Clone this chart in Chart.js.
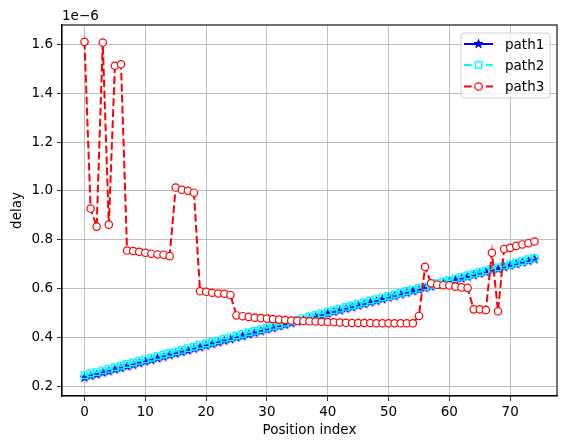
<!DOCTYPE html>
<html>
<head>
<meta charset="utf-8">
<script src="https://cdn.jsdelivr.net/npm/chart.js@4.4.1/dist/chart.umd.min.js"></script>
<style>
html, body { margin: 0; padding: 0; background: #fff; }
</style>
</head>
<body>
<canvas id="chart" width="567" height="448"></canvas>
<script>
// delay values are in units of 1e-6 (shown as the offset label on the y axis)
const positions = Array.from({ length: 75 }, (_, i) => i);

const path1 = [
    0.235, 0.242, 0.248, 0.255, 0.261, 0.268, 0.274, 0.281, 0.287, 0.294,
    0.301, 0.307, 0.314, 0.320, 0.327, 0.333, 0.340, 0.346, 0.353, 0.359,
    0.366, 0.373, 0.379, 0.386, 0.392, 0.399, 0.405, 0.412, 0.418, 0.425,
    0.432, 0.438, 0.445, 0.451, 0.458, 0.464, 0.471, 0.477, 0.484, 0.490,
    0.497, 0.504, 0.510, 0.517, 0.523, 0.530, 0.536, 0.543, 0.549, 0.556,
    0.563, 0.569, 0.576, 0.582, 0.589, 0.595, 0.602, 0.608, 0.615, 0.621,
    0.628, 0.635, 0.641, 0.648, 0.654, 0.661, 0.667, 0.674, 0.680, 0.687,
    0.694, 0.700, 0.707, 0.713, 0.720
];

const path2 = [
    0.245, 0.252, 0.258, 0.265, 0.271, 0.278, 0.284, 0.291, 0.297, 0.304,
    0.310, 0.317, 0.323, 0.330, 0.336, 0.343, 0.349, 0.356, 0.362, 0.369,
    0.375, 0.382, 0.388, 0.395, 0.401, 0.408, 0.414, 0.421, 0.427, 0.434,
    0.440, 0.447, 0.453, 0.460, 0.466, 0.473, 0.479, 0.486, 0.492, 0.499,
    0.505, 0.512, 0.518, 0.525, 0.531, 0.538, 0.544, 0.551, 0.557, 0.564,
    0.570, 0.577, 0.583, 0.590, 0.596, 0.603, 0.609, 0.616, 0.622, 0.629,
    0.635, 0.642, 0.648, 0.655, 0.661, 0.668, 0.674, 0.681, 0.687, 0.694,
    0.700, 0.707, 0.713, 0.720, 0.726
];

const path3 = [
    1.611, 0.928, 0.854, 1.608, 0.862, 1.513, 1.519, 0.756, 0.754, 0.751,
    0.747, 0.743, 0.740, 0.739, 0.733, 1.014, 1.005, 1.001, 0.993, 0.589,
    0.587, 0.583, 0.580, 0.579, 0.574, 0.490, 0.487, 0.484, 0.481, 0.479,
    0.477, 0.475, 0.473, 0.471, 0.469, 0.468, 0.467, 0.466, 0.465, 0.464,
    0.463, 0.462, 0.461, 0.460, 0.459, 0.459, 0.459, 0.459, 0.458, 0.458,
    0.458, 0.458, 0.458, 0.458, 0.458, 0.488, 0.689, 0.622, 0.616, 0.614,
    0.613, 0.608, 0.605, 0.603, 0.515, 0.515, 0.512, 0.747, 0.507, 0.762,
    0.767, 0.775, 0.781, 0.786, 0.793
];

const xTicks = [0, 10, 20, 30, 40, 50, 60, 70];
const yTicks = [0.2, 0.4, 0.6, 0.8, 1.0, 1.2, 1.4, 1.6];
const seriesNames = ["path1", "path2", "path3"];

const FONT = "DejaVu Sans";

function starImage(color) {
    const c = document.createElement("canvas");
    c.width = 11;
    c.height = 11;
    const g = c.getContext("2d");
    drawStar(g, 5.5, 5.5, 4.6, color);
    return c;
}

function drawStar(g, cx, cy, r, color) {
    const inner = r * 0.382;
    g.beginPath();
    for (let k = 0; k < 10; k++) {
        const rad = k % 2 === 0 ? r : inner;
        const a = -Math.PI / 2 + k * Math.PI / 5;
        const px = cx + rad * Math.cos(a);
        const py = cy + rad * Math.sin(a);
        if (k === 0) g.moveTo(px, py); else g.lineTo(px, py);
    }
    g.closePath();
    g.fillStyle = color;
    g.fill();
    g.strokeStyle = color;
    g.lineWidth = 1;
    g.stroke();
}

function toPoints(values) {
    return values.map((v, i) => ({ x: positions[i], y: v }));
}

const decorations = {
    id: "decorations",
    afterDraw(chart) {
        const g = chart.ctx;
        const a = chart.chartArea;
        g.save();

        // full frame
        g.strokeStyle = "#000";
        g.lineWidth = 1.1;
        g.setLineDash([]);
        g.strokeRect(a.left, a.top, a.right - a.left, a.bottom - a.top);

        // offset label and axis titles
        g.fillStyle = "#000";
        g.font = "13.5px '" + FONT + "'";
        g.textAlign = "left";
        g.textBaseline = "middle";
        g.fillText("1e\u22126", a.left, 16);

        g.textAlign = "center";
        g.fillText("Position index", (a.left + a.right) / 2, 430);
        g.save();
        g.translate(17, (a.top + a.bottom) / 2);
        g.rotate(-Math.PI / 2);
        g.fillText("delay", 0, 0);
        g.restore();

        // legend
        const bx = 461, by = 33, bw = 89, bh = 65;
        g.beginPath();
        g.roundRect(bx, by, bw, bh, 3);
        g.fillStyle = "rgba(255,255,255,0.8)";
        g.fill();
        g.strokeStyle = "#d0d0d0";
        g.lineWidth = 1;
        g.stroke();

        const rows = [44, 65, 86.5];
        const styles = [
            { color: "#0000ff", dash: [] },
            { color: "#00ffff", dash: [7.7, 3.3] },
            { color: "#ff0000", dash: [7.7, 3.3] }
        ];
        rows.forEach((yy, k) => {
            g.strokeStyle = styles[k].color;
            g.lineWidth = 2;
            g.setLineDash(styles[k].dash);
            g.beginPath();
            g.moveTo(464, yy);
            g.lineTo(493, yy);
            g.stroke();
            g.setLineDash([]);
            if (k === 0) {
                drawStar(g, 478.5, yy, 4.6, "#0000ff");
            } else if (k === 1) {
                g.fillStyle = "#fff";
                g.fillRect(475.3, yy - 3.2, 6.4, 6.4);
                g.strokeStyle = "#00ffff";
                g.lineWidth = 1.4;
                g.strokeRect(475.3, yy - 3.2, 6.4, 6.4);
            } else {
                g.beginPath();
                g.arc(478.5, yy, 3.7, 0, Math.PI * 2);
                g.fillStyle = "#fff";
                g.fill();
                g.strokeStyle = "#ff0000";
                g.lineWidth = 1.2;
                g.stroke();
            }
            g.fillStyle = "#000";
            g.font = "13.5px '" + FONT + "'";
            g.textAlign = "left";
            g.textBaseline = "middle";
            g.fillText(seriesNames[k], 505, yy + 1);
        });

        g.restore();
    }
};

new Chart(document.getElementById("chart"), {
    type: "line",
    data: {
        datasets: [
            {
                label: seriesNames[0],
                data: toPoints(path1),
                borderColor: "#0000ff",
                borderWidth: 2,
                pointStyle: starImage("#0000ff"),
                pointRadius: 4,
                order: 3
            },
            {
                label: seriesNames[1],
                data: toPoints(path2),
                borderColor: "#00ffff",
                borderWidth: 2,
                borderDash: [7.7, 3.3],
                pointStyle: "rect",
                pointRadius: 4.6,
                pointBorderWidth: 1.4,
                pointBorderColor: "#00ffff",
                pointBackgroundColor: "rgba(0,0,0,0)",
                order: 2
            },
            {
                label: seriesNames[2],
                data: toPoints(path3),
                borderColor: "#ff0000",
                borderWidth: 2,
                borderDash: [7.7, 3.3],
                pointStyle: "circle",
                pointRadius: 3.7,
                pointBorderWidth: 1.2,
                pointBorderColor: "#ff0000",
                pointBackgroundColor: "#ffffff",
                order: 1
            }
        ]
    },
    options: {
        responsive: false,
        animation: false,
        events: [],
        layout: {
            padding: { top: 25, right: 10, left: 0, bottom: 0 }
        },
        plugins: {
            legend: { display: false },
            tooltip: { enabled: false }
        },
        scales: {
            x: {
                type: "linear",
                min: -3.7,
                max: 77.7,
                afterBuildTicks: scale => { scale.ticks = xTicks.map(v => ({ value: v })); },
                afterFit: scale => { scale.height = 52; },
                grid: {
                    color: "#b0b0b0",
                    lineWidth: 0.8,
                    tickColor: "#000",
                    tickLength: 5
                },
                border: { color: "#000", width: 1.1 },
                ticks: {
                    color: "#000",
                    padding: 3,
                    maxRotation: 0,
                    font: { family: FONT, size: 13.5 }
                }
            },
            y: {
                type: "linear",
                min: 0.16,
                max: 1.68,
                afterBuildTicks: scale => { scale.ticks = yTicks.map(v => ({ value: v })); },
                afterFit: scale => { scale.width = 62; },
                grid: {
                    color: "#b0b0b0",
                    lineWidth: 0.8,
                    tickColor: "#000",
                    tickLength: 5
                },
                border: { color: "#000", width: 1.1 },
                ticks: {
                    color: "#000",
                    padding: 4,
                    font: { family: FONT, size: 13.5 },
                    callback: v => v.toFixed(1)
                }
            }
        }
    },
    plugins: [decorations]
});
</script>
</body>
</html>
